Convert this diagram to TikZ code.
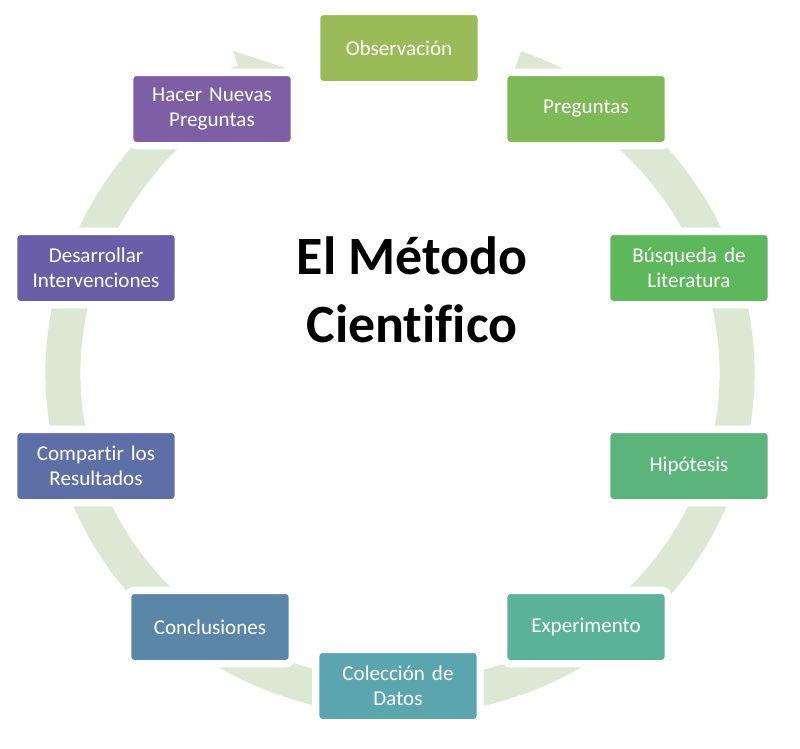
\documentclass[tikz,border=0pt]{standalone}
\usepackage{fontspec}
\setmainfont[Ligatures=NoCommon]{Carlito}
\usetikzlibrary{arrows.meta,shadows}
\definecolor{ring}{RGB}{221,232,212}
\definecolor{c1}{RGB}{155,187,89}
\definecolor{c2}{RGB}{125,185,86}
\definecolor{c3}{RGB}{93,183,91}
\definecolor{c4}{RGB}{91,181,122}
\definecolor{c5}{RGB}{90,179,153}
\definecolor{c6}{RGB}{90,165,174}
\definecolor{c7}{RGB}{90,135,168}
\definecolor{c8}{RGB}{94,111,168}
\definecolor{c9}{RGB}{107,94,168}
\definecolor{c10}{RGB}{126,94,165}
\begin{document}
\begin{tikzpicture}[x=0.03cm,y=-0.03cm,
  stage/.style={rounded corners=0.2cm,draw=white,line width=0.22cm,
    minimum width=4.9cm,minimum height=2.2cm,text width=4.7cm,align=center,
    text=white,font=\fontsize{18pt}{21.5pt}\selectfont,
    drop shadow={opacity=0.35,shadow xshift=0.05cm,shadow yshift=-0.08cm}}]
\useasboundingbox (0,0) rectangle (800,749);
\draw[ring,line width=1.05cm,-{Triangle[length=1.3cm,width=1.9cm]}]
  ([shift={(70:337 and -325)}]400,373) arc[start angle=70,end angle=-250,x radius=337,y radius=-325];
\node[stage,fill=c1] (a) at (399,48) {Observación};
\node[stage,fill=c2] (b) at (586,109) {Preguntas};
\node[stage,fill=c3] (c) at (689,268) {Búsqueda de\\Literatura};
\node[stage,fill=c4] (d) at (689,466) {Hipótesis};
\node[stage,fill=c5] (e) at (586,627) {Experimento};
\node[stage,fill=c6] (f) at (398,686) {Colección de\\Datos};
\node[stage,fill=c7] (g) at (210,627) {Conclusiones};
\node[stage,fill=c8] (h) at (96,466) {Compartir los\\Resultados};
\node[stage,fill=c9] (i) at (96,268) {Desarrollar\\Intervenciones};
\node[stage,fill=c10] (j) at (212,109) {Hacer Nuevas\\Preguntas};
\node[font=\bfseries\fontsize{46pt}{58pt}\selectfont,align=center] (t) at (412,290) {El Método\\Cientifico};
\end{tikzpicture}
\end{document}
